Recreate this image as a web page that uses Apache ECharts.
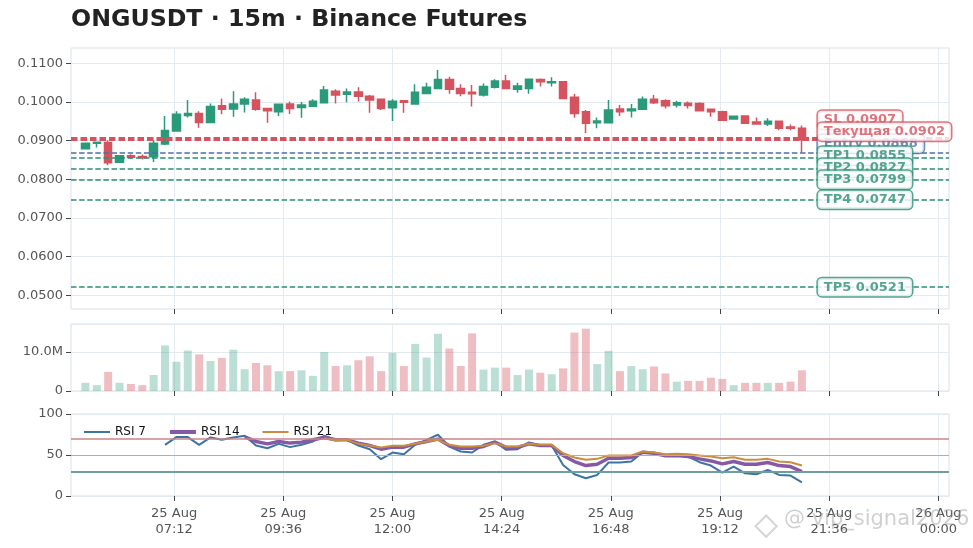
<!DOCTYPE html>
<html>
<head>
<meta charset="utf-8">
<script src="https://cdn.jsdelivr.net/npm/echarts@6/dist/echarts.min.js"></script>
<style>
html,body{margin:0;padding:0;background:#fff;}
#chart{width:973px;height:548px;}
</style>
</head>
<body>
<div id="chart"></div>
<script>
// ---------- data ----------
const dateStr = '2025-08-25';
const times = ['05:15','05:30','05:45','06:00','06:15','06:30','06:45','07:00','07:15','07:30','07:45','08:00','08:15','08:30','08:45','09:00',
  '09:15','09:30','09:45','10:00','10:15','10:30','10:45','11:00','11:15','11:30','11:45','12:00','12:15','12:30','12:45','13:00',
  '13:15','13:30','13:45','14:00','14:15','14:30','14:45','15:00','15:15','15:30','15:45','16:00','16:15','16:30','16:45','17:00',
  '17:15','17:30','17:45','18:00','18:15','18:30','18:45','19:00','19:15','19:30','19:45','20:00','20:15','20:30','20:45','21:00'];
const opens  = [0.0879,0.0893,0.0895,0.0844,0.0861,0.0859,0.0858,0.0891,0.0925,0.0965,0.0970,0.0947,0.0990,0.0982,0.0995,0.1005,
  0.0983,0.0975,0.0995,0.0986,0.0989,0.0998,0.1028,0.1020,0.1026,0.1015,0.1007,0.0985,0.1003,0.0995,0.1022,0.1035,
  0.1058,0.1035,0.1025,0.1018,0.1038,0.1054,0.1033,0.1035,0.1058,0.1050,0.1052,0.1012,0.0975,0.0946,0.0946,0.0982,
  0.0977,0.0981,0.1007,0.1003,0.0992,0.0997,0.0996,0.0981,0.0975,0.0956,0.0964,0.0948,0.0943,0.0950,0.0935,0.0932];
const highs  = [0.0894,0.0897,0.0901,0.0863,0.0865,0.0864,0.0901,0.0964,0.0976,0.1005,0.0976,0.0996,0.1009,0.1028,0.1012,0.1025,
  0.0984,0.0996,0.1001,0.1000,0.1007,0.1041,0.1033,0.1035,0.1038,0.1018,0.1009,0.1007,0.1005,0.1046,0.1050,0.1083,
  0.1065,0.1046,0.1044,0.1048,0.1059,0.1070,0.1050,0.1061,0.1061,0.1064,0.1054,0.1021,0.0979,0.0960,0.1005,0.0992,
  0.0995,0.1014,0.1018,0.1007,0.1003,0.1001,0.0999,0.0982,0.0977,0.0965,0.0965,0.0960,0.0958,0.0951,0.0942,0.0939];
const lows   = [0.0877,0.0882,0.0836,0.0843,0.0853,0.0851,0.0845,0.0889,0.0923,0.0960,0.0933,0.0945,0.0968,0.0962,0.0973,0.0977,
  0.0946,0.0964,0.0969,0.0959,0.0988,0.0996,0.0996,0.0999,0.1001,0.0972,0.0979,0.0951,0.0972,0.0994,0.1022,0.1034,
  0.1021,0.1015,0.0988,0.1014,0.1035,0.1033,0.1024,0.1021,0.1040,0.1040,0.1007,0.0959,0.0920,0.0932,0.0945,0.0964,
  0.0960,0.0980,0.0995,0.0983,0.0986,0.0983,0.0977,0.0962,0.0951,0.0955,0.0943,0.0942,0.0938,0.0927,0.0927,0.0869];
const closes = [0.0893,0.0896,0.0843,0.0861,0.0857,0.0856,0.0893,0.0926,0.0968,0.0970,0.0947,0.0988,0.0981,0.0995,0.1007,0.0981,
  0.0977,0.0994,0.0983,0.0992,0.1002,0.1031,0.1018,0.1026,0.1015,0.1005,0.0983,0.1002,0.0999,0.1025,0.1038,0.1058,
  0.1033,0.1022,0.1021,0.1040,0.1054,0.1035,0.1041,0.1059,0.1052,0.1052,0.1009,0.0970,0.0945,0.0951,0.0979,0.0975,
  0.0982,0.1007,0.0998,0.0990,0.0998,0.0991,0.0977,0.0975,0.0953,0.0963,0.0945,0.0943,0.0950,0.0932,0.0932,0.0902];
const volumesM = [2.1,1.5,4.9,2.1,1.8,1.5,4.1,11.7,7.5,10.4,9.4,7.7,8.5,10.6,5.6,7.2,
  6.6,5.1,5.1,5.3,3.9,10.0,6.4,6.6,7.9,8.9,5.1,9.8,6.4,12.1,8.6,14.7,
  10.9,6.4,14.8,5.5,6.0,6.0,4.1,5.5,4.7,4.3,5.8,15.0,16.0,6.9,10.3,5.1,
  6.4,5.6,6.3,4.5,2.4,2.6,2.6,3.4,3.1,1.5,2.1,2.1,2.1,2.1,2.4,5.3];
const rsi7 = [null,null,null,null,null,null,null,
  62.4,71.8,71.8,62.4,71.4,68.5,71.4,73.4,61.6,58.3,63.6,59.6,62.4,66.5,73.4,
  68.5,68.5,61.6,57.1,44.9,53.0,51.0,62.4,68.5,74.7,
  60.4,54.3,53.0,
  62.4,66.5,56.3,57.1,65.3,61.6,61.6,
  37.9,26.5,21.6,25.7,40.8,40.8,42.0,53.4,52.2,49.4,49.4,48.1,41.2,37.1,28.6,35.9,27.7,26.5,31.8,25.7,24.9,16.7];
const rsi14 = [null,null,null,null,null,null,null,null,null,null,null,null,null,null,
  72.2,66.5,63.6,66.5,64.5,65.7,68.5,71.4,
  68.5,68.5,64.5,61.6,57.1,59.6,59.6,63.6,66.5,69.4,
  61.2,58.3,58.3,
  60.4,65.7,59.2,59.2,63.6,61.6,61.6,
  49.4,42.0,37.1,38.8,46.1,46.1,46.9,53.4,52.2,49.0,49.4,48.1,45.3,42.8,39.2,42.0,38.8,38.8,40.8,37.1,35.9,29.8];
const rsi21 = [null,null,null,null,null,null,null,null,null,null,null,null,null,null,null,null,null,null,null,null,null,
  70.6,67.7,68.5,63.6,61.6,59.2,61.2,61.2,63.6,66.5,68.5,
  62.4,60.4,60.4,
  61.2,64.5,60.4,60.4,63.6,62.4,62.4,
  52.2,46.9,44.1,45.3,49.4,49.4,49.4,54.3,53.0,51.0,51.4,51.0,49.4,48.1,46.1,47.3,44.1,44.1,45.3,42.0,41.2,37.1];
const levelNames  = ['SL','Entry','TP1','TP2','TP3','TP4','TP5','Текущая'];
const levelValues = [0.0907,0.0868,0.0855,0.0827,0.0799,0.0747,0.0521,0.0902];
const priceTicks  = [0.05,0.06,0.07,0.08,0.09,0.10,0.11];
const timeTicks   = ['2025-08-25T07:12','2025-08-25T09:36','2025-08-25T12:00','2025-08-25T14:24','2025-08-25T16:48','2025-08-25T19:12','2025-08-25T21:36','2025-08-26T00:00'];
const rsiLevels   = [70,50,30];

// ---------- styles / layout ----------
const FONT = 'DejaVu Sans';
const UP = '#2a9a7a', DOWN = '#d4535e';
const UP_V = 'rgba(42,154,122,0.32)', DOWN_V = 'rgba(212,83,94,0.38)';
const RED = '#d4535e', BLUE = '#4a70a8', GREEN = '#2a8f74';
const C7 = '#3d74a4', C14 = '#8659a6', C21 = '#c98d3e';
const levelColors = {SL:RED,'Текущая':RED,Entry:BLUE};
const X_MIN = Date.parse('2025-08-25T04:56Z'), X_MAX = Date.parse('2025-08-26T00:14Z');
const Y_MIN = 0.04645, Y_MAX = 0.11396;
const MAIN = {top:48,height:261}, VOL = {top:324,height:67}, RSI = {top:414,height:82};
const LEFT = 71, RIGHT = 24;

const ts = times.map(t => Date.parse(dateStr + 'T' + t + 'Z'));
const tickTs = timeTicks.map(t => Date.parse(t + 'Z'));
const MON = ['Jan','Feb','Mar','Apr','May','Jun','Jul','Aug','Sep','Oct','Nov','Dec'];
const pad = n => String(n).padStart(2,'0');
const fmtTime = v => { const d = new Date(v); return d.getUTCDate() + ' ' + MON[d.getUTCMonth()] + '\n' + pad(d.getUTCHours()) + ':' + pad(d.getUTCMinutes()); };

const candleData = ts.map((t,i) => [t, opens[i], closes[i], lows[i], highs[i]]);
const volData = ts.map((t,i) => ({value:[t, volumesM[i]*1e6], itemStyle:{color: closes[i] >= opens[i] ? UP_V : DOWN_V}}));
const toLine = arr => ts.map((t,i) => [t, arr[i]]).filter(p => p[1] !== null);

// label repel (keep a minimum vertical gap, pushing upwards)
const gap = 12 * (Y_MAX - Y_MIN) / MAIN.height;
const labelY = [];
const order = levelValues.map((v,i)=>i).sort((a,b)=>levelValues[a]-levelValues[b]);
let prev = -Infinity;
order.forEach(i => { const y = Math.max(levelValues[i], prev + gap); labelY[i] = y; prev = y; });
const labelAnchor = ts[ts.length-1] + 21*60000;
const colorOf = n => levelColors[n] || GREEN;
const isRed = n => (n === 'SL' || n === 'Текущая');

const levelLines = levelNames.map((n,i) => ({
  yAxis: levelValues[i],
  lineStyle: {color: colorOf(n), type: isRed(n) ? [6.5,3] : [5.5,2.6], width: isRed(n) ? 2 : 1.6}
}));
const labelData = levelNames.map((n,i) => ({
  value: [labelAnchor, labelY[i]],
  label: {color: colorOf(n), borderColor: colorOf(n), formatter: n + ' ' + levelValues[i].toFixed(4)}
}));

const axisLabelStyle = {fontFamily: FONT, fontSize: 13, color: '#555'};
const splitStyle = {show: true, lineStyle: {color: '#e3eaf0', width: 1}};
const xAxisBase = (gi, showLabel) => ({
  type: 'value', gridIndex: gi, min: X_MIN, max: X_MAX,
  axisLine: {show: false},
  axisTick: {show: true, customValues: tickTs, length: 5, lineStyle: {color: '#444'}},
  axisLabel: {show: showLabel, customValues: tickTs, formatter: fmtTime, fontFamily: FONT, fontSize: 13, color: '#555', lineHeight: 16, margin: 10},
  splitLine: splitStyle
});

const option = {
  backgroundColor: '#fff',
  animation: false,
  textStyle: {fontFamily: FONT},
  title: {text: 'ONGUSDT · 15m · Binance Futures', left: 66, top: 3,
    textStyle: {fontFamily: FONT, fontSize: 23.7, fontWeight: 'bold', color: '#222'}},
  legend: {
    data: [
      {name: 'RSI 7', lineStyle: {width: 2, color: C7}},
      {name: 'RSI 14', lineStyle: {width: 4, color: C14}},
      {name: 'RSI 21', lineStyle: {width: 2, color: C21}}
    ],
    left: 78, top: 421, itemWidth: 26, itemHeight: 12, itemGap: 22,
    itemStyle: {opacity: 0},
    textStyle: {fontFamily: FONT, fontSize: 12, color: '#111'}
  },
  grid: [
    {left: LEFT, right: RIGHT, top: MAIN.top, height: MAIN.height, show: true, borderColor: '#d9e1e8', borderWidth: 1, backgroundColor: '#fff'},
    {left: LEFT, right: RIGHT, top: VOL.top, height: VOL.height, show: true, borderColor: '#d9e1e8', borderWidth: 1},
    {left: LEFT, right: RIGHT, top: RSI.top, height: RSI.height, show: true, borderColor: '#d9e1e8', borderWidth: 1}
  ],
  xAxis: [xAxisBase(0,false), xAxisBase(1,false), xAxisBase(2,true)],
  yAxis: [
    {type: 'value', gridIndex: 0, min: Y_MIN, max: Y_MAX, scale: true,
      axisLine: {show: false},
      axisTick: {show: true, customValues: priceTicks, length: 5, lineStyle: {color: '#444'}},
      axisLabel: Object.assign({customValues: priceTicks, formatter: v => v.toFixed(4), margin: 8}, axisLabelStyle),
      splitLine: splitStyle},
    {type: 'value', gridIndex: 1, min: 0, max: 17.2e6, interval: 10e6,
      axisLine: {show: false},
      axisTick: {show: true, length: 5, lineStyle: {color: '#444'}},
      axisLabel: Object.assign({showMaxLabel: false, formatter: v => v === 0 ? '0' : (v/1e6).toFixed(1) + 'M', margin: 8}, axisLabelStyle),
      splitLine: splitStyle},
    {type: 'value', gridIndex: 2, min: 0, max: 100, interval: 50,
      axisLine: {show: false},
      axisTick: {show: true, length: 5, lineStyle: {color: '#444'}},
      axisLabel: Object.assign({margin: 8}, axisLabelStyle),
      splitLine: splitStyle}
  ],
  graphic: [
    {type: 'text', left: 784, top: 509, z: 100, silent: true,
      style: {text: '@ vip_signal2026', fontFamily: FONT, fontSize: 21, fill: 'rgba(150,150,150,0.45)'}},
    {type: 'rect', left: 752, top: 512, z: 100, silent: true, rotation: Math.PI/4,
      shape: {width: 15, height: 15}, style: {fill: 'none', stroke: 'rgba(150,150,150,0.4)', lineWidth: 2}}
  ],
  series: [
    {type: 'candlestick', name: 'Price', xAxisIndex: 0, yAxisIndex: 0, data: candleData, barWidth: 8,
      itemStyle: {color: UP, color0: DOWN, borderColor: UP, borderColor0: DOWN, borderWidth: 1.5},
      z: 3},
    {type: 'line', name: 'levels', xAxisIndex: 0, yAxisIndex: 0, data: [], silent: true,
      markLine: {symbol: 'none', silent: true, precision: 6, label: {show: false}, data: levelLines, animation: false}, z: 4},
    {type: 'scatter', name: 'levelLabels', xAxisIndex: 0, yAxisIndex: 0, symbolSize: 0, data: labelData, silent: true, z: 10,
      label: {show: true, position: 'right', distance: 0, fontFamily: FONT, fontSize: 13, fontWeight: 'bold',
        backgroundColor: '#fff', borderWidth: 1.5, borderRadius: 4, padding: [2, 6, 1, 6], lineHeight: 15}},
    {type: 'bar', name: 'Volume', xAxisIndex: 1, yAxisIndex: 1, data: volData, barWidth: 8},
    {type: 'line', name: 'RSI 7', xAxisIndex: 2, yAxisIndex: 2, data: toLine(rsi7), symbol: 'none', showSymbol: false,
      lineStyle: {color: C7, width: 2}, itemStyle: {color: C7},
      markLine: {symbol: 'none', silent: true, precision: 6, label: {show: false}, data: [
        {yAxis: rsiLevels[0], lineStyle: {color: '#c88686', width: 1.6, type: 'solid'}},
        {yAxis: rsiLevels[1], lineStyle: {color: '#9fb3b8', width: 1, type: 'solid'}},
        {yAxis: rsiLevels[2], lineStyle: {color: '#6f9f9c', width: 2, type: 'solid'}}
      ]}},
    {type: 'line', name: 'RSI 14', xAxisIndex: 2, yAxisIndex: 2, data: toLine(rsi14), symbol: 'none', showSymbol: false,
      lineStyle: {color: C14, width: 3.5}, itemStyle: {color: C14}},
    {type: 'line', name: 'RSI 21', xAxisIndex: 2, yAxisIndex: 2, data: toLine(rsi21), symbol: 'none', showSymbol: false,
      lineStyle: {color: C21, width: 2}, itemStyle: {color: C21}}
  ]
};
const chart = echarts.init(document.getElementById('chart'), null, {renderer: 'canvas'});
chart.setOption(option);
</script>
</body>
</html>
